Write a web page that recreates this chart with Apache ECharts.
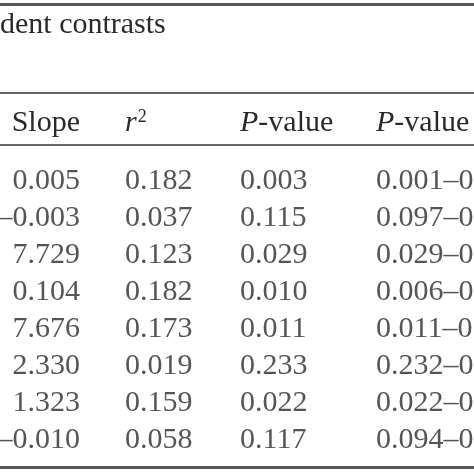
<!DOCTYPE html>
<html><head><meta charset="utf-8">
<script src="https://cdn.jsdelivr.net/npm/echarts@6/dist/echarts.min.js"></script>
<style>html,body{margin:0;padding:0;background:#fff}#c{width:474px;height:474px}</style>
</head><body><div id="c"></div>
<script>
const rows = ['r1','r2','r3','r4','r5','r6','r7','r8'];
const slope = ['0.005','–0.003','7.729','0.104','7.676','2.330','1.323','–0.010'];
const r2 = ['0.182','0.037','0.123','0.182','0.173','0.019','0.159','0.058'];
const pval = ['0.003','0.115','0.029','0.010','0.011','0.233','0.022','0.117'];
const prange = ['0.001–0.005','0.097–0.130','0.029–0.030','0.006–0.012','0.011–0.012','0.232–0.234','0.022–0.023','0.094–0.140'];
const headers = ['Slope','r','P','P'];
const title = 'dent contrasts';

const colX = [80,125,240,376];
const FS = 30;
const font = {fontFamily:'Liberation Serif',fontSize:FS,color:'#2a2a2a'};
function col(vals,x,align){
  return {type:'scatter',symbolSize:0,silent:true,
    data:vals.map((v,i)=>({value:[x,rows[i]],label:{formatter:v}})),
    label:{show:true,position:'inside',align:align,verticalAlign:'middle',...font}};
}
const shade = rows.filter((r,i)=>i%2===1).map(r=>[{yAxis:r,xAxis:0},{yAxis:r,xAxis:474}]);
const chart = echarts.init(document.getElementById('c'));
const s0 = col(slope,colX[0],'right');
s0.markArea={silent:true,itemStyle:{color:'#e3e3e3'},data:shade};
const it = {fontFamily:'Liberation Serif',fontSize:FS,fontStyle:'italic',fill:'#2a2a2a'};
const nm = {fontFamily:'Liberation Serif',fontSize:FS,fill:'#2a2a2a'};
chart.setOption({
  animation:false,
  grid:{left:0,right:0,top:162.5,height:296},
  xAxis:{type:'value',min:0,max:474,show:false},
  yAxis:{type:'category',data:rows,inverse:true,show:false},
  series:[s0,col(r2,colX[1],'left'),col(pval,colX[2],'left'),col(prange,colX[3],'left')],
  graphic:[
    {type:'rect',z:100,shape:{x:0,y:3,width:474,height:3},style:{fill:'#555'}},
    {type:'rect',z:100,shape:{x:0,y:92,width:474,height:2},style:{fill:'#666'}},
    {type:'rect',z:100,shape:{x:0,y:144,width:474,height:2},style:{fill:'#666'}},
    {type:'rect',z:100,shape:{x:0,y:466,width:474,height:3},style:{fill:'#555'}},
    {type:'text',x:0,y:25,style:{text:title,...nm,verticalAlign:'middle'}},
    {type:'text',x:80,y:123,style:{text:headers[0],...nm,align:'right',verticalAlign:'middle'}},
    {type:'text',x:125,y:123,style:{text:'{i|r}{s|2}',fill:'#2a2a2a',verticalAlign:'middle',
      rich:{i:it,s:{fontFamily:'Liberation Serif',fontSize:18,fill:'#2a2a2a',verticalAlign:'top',padding:[0,0,12,1]}}}},
    {type:'text',x:240,y:123,style:{text:'{i|'+headers[2]+'}{n|-value}',fill:'#2a2a2a',verticalAlign:'middle',rich:{i:it,n:nm}}},
    {type:'text',x:376,y:123,style:{text:'{i|'+headers[3]+'}{n|-value}',fill:'#2a2a2a',verticalAlign:'middle',rich:{i:it,n:nm}}}
  ]
});
</script></body></html>
